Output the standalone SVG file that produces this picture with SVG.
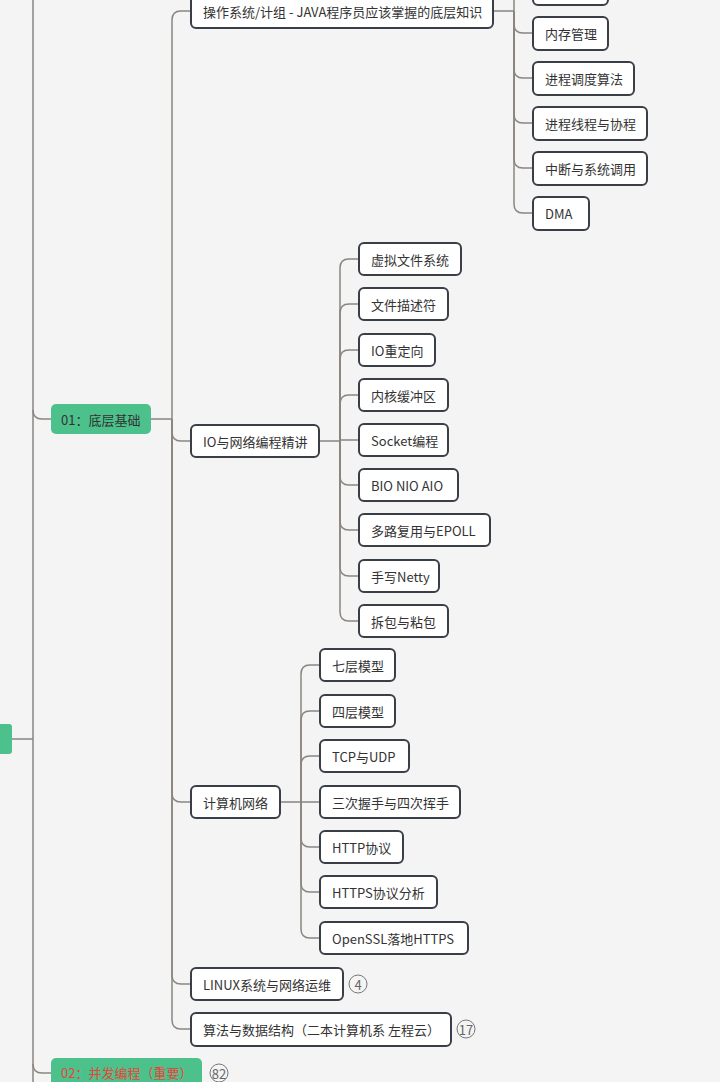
<svg xmlns="http://www.w3.org/2000/svg" width="720" height="1082" viewBox="0 0 720 1082">
<style>
.n rect{fill:#fff;stroke:#3a3f47;stroke-width:2}
.g rect{fill:#4dc18c;stroke:none}
text{font-family:"Noto Sans CJK SC","Liberation Sans",sans-serif;font-size:13px;fill:#333;dominant-baseline:central}
.c path{fill:none;stroke:#8a8580;stroke-width:1.5}
.b circle{fill:none;stroke:#777;stroke-width:1}
.b text{text-anchor:middle;fill:#666}
</style>
<rect width="720" height="1082" fill="#f4f4f4"/>
<g class="c">
<path d="M33,0V1082"/>
<path d="M12,739H33"/>
<path d="M33,410Q33,419 42,419H51"/>
<path d="M33,1064Q33,1073 42,1073H51"/>
<path d="M151,419H172"/>
<path d="M172,419V20Q172,11 181,11H191"/>
<path d="M172,419V432Q172,441 181,441H191"/>
<path d="M172,419V793Q172,802 181,802H191"/>
<path d="M172,419V975Q172,984 181,984H191"/>
<path d="M172,419V1020Q172,1029 181,1029H191"/>
<path d="M493,11H514"/>
<path d="M514,11V-4Q514,-12 522,-12H533"/>
<path d="M514,11V24Q514,33 523,33H533"/>
<path d="M514,11V69Q514,78 523,78H533"/>
<path d="M514,11V114Q514,123 523,123H533"/>
<path d="M514,11V159Q514,168 523,168H533"/>
<path d="M514,11V204Q514,213 523,213H533"/>
<path d="M319,441H340"/>
<path d="M340,441V268Q340,259 349,259H359"/>
<path d="M340,441V313Q340,304 349,304H359"/>
<path d="M340,441V359Q340,350 349,350H359"/>
<path d="M340,441V404Q340,395 349,395H359"/>
<path d="M340,440H359"/>
<path d="M340,441V476Q340,485 349,485H359"/>
<path d="M340,441V521Q340,530 349,530H359"/>
<path d="M340,441V567Q340,576 349,576H359"/>
<path d="M340,441V612Q340,621 349,621H359"/>
<path d="M280,802H301"/>
<path d="M301,802V674Q301,665 310,665H320"/>
<path d="M301,802V720Q301,711 310,711H320"/>
<path d="M301,802V765Q301,756 310,756H320"/>
<path d="M301,802H320"/>
<path d="M301,802V838Q301,847 310,847H320"/>
<path d="M301,802V883Q301,892 310,892H320"/>
<path d="M301,802V929Q301,938 310,938H320"/>
</g>
<g id="root" class="g"><rect x="-10" y="724" width="22" height="30" rx="3"/></g>
<g id="n01" class="g"><rect x="51" y="404" width="100" height="30" rx="5"/><text x="61" y="419">01：底层基础</text></g>
<g id="n02" class="g"><rect x="51" y="1058" width="151" height="32" rx="5"/><text x="61" y="1072" fill="#e8443a" style="fill:#e8443a">02：并发编程（重要）</text></g>
<g class="b"><circle cx="219" cy="1073" r="9"/><text x="219" y="1073">82</text></g>
<g id="os" class="n"><rect x="191" y="-10" width="302" height="38" rx="5"/><text x="203" y="11">操作系统/计组 - JAVA程序员应该掌握的底层知识</text></g>
<g id="os0" class="n"><rect x="533" y="-28" width="75" height="33" rx="5"/></g>
<g id="os1" class="n"><rect x="533" y="17" width="75" height="33" rx="5"/><text x="545" y="33">内存管理</text></g>
<g id="os2" class="n"><rect x="533" y="62" width="101" height="33" rx="5"/><text x="545" y="78">进程调度算法</text></g>
<g id="os3" class="n"><rect x="533" y="107" width="114" height="33" rx="5"/><text x="545" y="123">进程线程与协程</text></g>
<g id="os4" class="n"><rect x="533" y="152" width="114" height="33" rx="5"/><text x="545" y="168">中断与系统调用</text></g>
<g id="os5" class="n"><rect x="533" y="197" width="56" height="33" rx="5"/><text x="545" y="213">DMA</text></g>
<g id="io" class="n"><rect x="191" y="425" width="128" height="32" rx="5"/><text x="203" y="441">IO与网络编程精讲</text></g>
<g id="io1" class="n"><rect x="359" y="243" width="102" height="32" rx="5"/><text x="371" y="259">虚拟文件系统</text></g>
<g id="io2" class="n"><rect x="359" y="288" width="89" height="32" rx="5"/><text x="371" y="304">文件描述符</text></g>
<g id="io3" class="n"><rect x="359" y="334" width="76" height="32" rx="5"/><text x="371" y="350">IO重定向</text></g>
<g id="io4" class="n"><rect x="359" y="379" width="89" height="32" rx="5"/><text x="371" y="395">内核缓冲区</text></g>
<g id="io5" class="n"><rect x="359" y="424" width="89" height="32" rx="5"/><text x="371" y="440">Socket编程</text></g>
<g id="io6" class="n"><rect x="359" y="469" width="99" height="32" rx="5"/><text x="371" y="485">BIO NIO AIO</text></g>
<g id="io7" class="n"><rect x="359" y="514" width="131" height="32" rx="5"/><text x="371" y="530">多路复用与EPOLL</text></g>
<g id="io8" class="n"><rect x="359" y="560" width="80" height="32" rx="5"/><text x="371" y="576">手写Netty</text></g>
<g id="io9" class="n"><rect x="359" y="605" width="89" height="32" rx="5"/><text x="371" y="621">拆包与粘包</text></g>
<g id="net" class="n"><rect x="191" y="786" width="89" height="32" rx="5"/><text x="203" y="802">计算机网络</text></g>
<g id="net1" class="n"><rect x="320" y="649" width="75" height="32" rx="5"/><text x="332" y="665">七层模型</text></g>
<g id="net2" class="n"><rect x="320" y="695" width="75" height="32" rx="5"/><text x="332" y="711">四层模型</text></g>
<g id="net3" class="n"><rect x="320" y="740" width="89" height="32" rx="5"/><text x="332" y="756">TCP与UDP</text></g>
<g id="net4" class="n"><rect x="320" y="786" width="140" height="32" rx="5"/><text x="332" y="802">三次握手与四次挥手</text></g>
<g id="net5" class="n"><rect x="320" y="831" width="83" height="32" rx="5"/><text x="332" y="847">HTTP协议</text></g>
<g id="net6" class="n"><rect x="320" y="876" width="117" height="32" rx="5"/><text x="332" y="892">HTTPS协议分析</text></g>
<g id="net7" class="n"><rect x="320" y="922" width="148" height="32" rx="5"/><text x="332" y="938">OpenSSL落地HTTPS</text></g>
<g id="linux" class="n"><rect x="191" y="968" width="152" height="32" rx="5"/><text x="203" y="984">LINUX系统与网络运维</text></g>
<g class="b"><circle cx="358" cy="984" r="9"/><text x="358" y="984">4</text></g>
<g id="algo" class="n"><rect x="191" y="1013" width="260" height="33" rx="5"/><text x="203" y="1029">算法与数据结构（二本计算机系 左程云）</text></g>
<g class="b"><circle cx="466" cy="1029" r="9"/><text x="466" y="1029">17</text></g>
</svg>
